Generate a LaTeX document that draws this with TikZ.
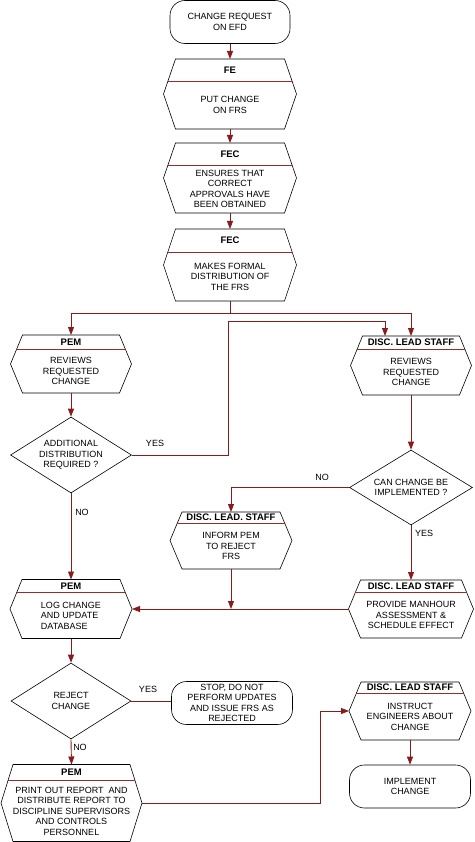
\documentclass[tikz,border=0pt]{standalone}
\usepackage{fontspec}
\setmainfont{Liberation Sans}
\usetikzlibrary{arrows.meta,shapes.geometric}

\definecolor{flowred}{RGB}{139,26,26}
\definecolor{rulered}{RGB}{150,45,45}

\tikzset{
    frame/.style={draw=black, line width=0.6pt},
    rulebar/.style={draw=rulered, line width=0.8pt},
    flow/.style={draw=flowred, line width=0.9pt, -{Triangle[width=6pt,length=8pt]}},
    plain/.style={draw=flowred, line width=0.9pt},
    hexa/.style={rectangle, inner sep=0pt, outer sep=0pt},
    head/.style={font=\fontsize{9.5}{11}\selectfont\bfseries, inner sep=0pt},
    txt/.style={font=\fontsize{9}{10.5}\selectfont, align=center, inner sep=0pt},
    term/.style={frame, rounded corners=15pt, txt, minimum width=121pt, minimum height=43pt},
    decision/.style={diamond, frame, txt, aspect=1.6},
    answer/.style={font=\fontsize{9}{10}\selectfont, inner sep=1pt},
}

% hexagon with header bar: [text opts]{name}{at}{width}{height}{header height}{header}{body}
\newcommand{\hexbox}[8][]{%
    \node[hexa, minimum width=#4, minimum height=#5] (#2) at (#3) {};
    \draw[frame] (#2.west) -- ([xshift=12pt]#2.north west) -- ([xshift=-12pt]#2.north east)
        -- (#2.east) -- ([xshift=-12pt]#2.south east) -- ([xshift=12pt]#2.south west) -- cycle;
    \begin{scope}
        \clip (#2.west) -- ([xshift=12pt]#2.north west) -- ([xshift=-12pt]#2.north east)
            -- (#2.east) -- ([xshift=-12pt]#2.south east) -- ([xshift=12pt]#2.south west) -- cycle;
        \draw[rulebar] ([yshift=-#6]#2.north west) -- ([yshift=-#6]#2.north east);
    \end{scope}
    \node[head] (#2-head) at ([yshift=-#6/2]#2.north) {#7};
    \node[txt, #1] (#2-text) at ([yshift=-#6/2]#2.center) {#8};
}

\begin{document}
\begin{tikzpicture}[x=1pt,y=-1pt]
    \useasboundingbox (0,0) rectangle (474,842);

    % main column
    \node[term, minimum width=120pt] (req) at (230,22) {CHANGE REQUEST\\ON EFD};
    \hexbox{fe}{230,94}{133pt}{70pt}{22pt}{FE}{PUT CHANGE\\ON FRS}
    \hexbox{fec1}{230,178}{133pt}{70pt}{22pt}{FEC}{ENSURES THAT\\CORRECT\\APPROVALS HAVE\\BEEN OBTAINED}
    \hexbox{fec2}{230,265}{133pt}{72pt}{23pt}{FEC}{MAKES FORMAL\\DISTRIBUTION OF\\THE FRS}

    % review
    \hexbox{pem1}{71,364}{121pt}{58pt}{14pt}{PEM}{REVIEWS\\REQUESTED\\CHANGE}
    \hexbox{dls1}{411,365.5}{121pt}{59pt}{13pt}{DISC. LEAD STAFF}{REVIEWS\\REQUESTED\\CHANGE}
    \node[decision, minimum width=121pt, minimum height=76pt] (addl) at (71,455) {ADDITIONAL\\DISTRIBUTION\\REQUIRED ?};
    \node[decision, minimum width=123pt, minimum height=75pt] (can) at (411,487.5) {CAN CHANGE BE\\IMPLEMENTED ?};
    \hexbox{dls2}{231,540.5}{122pt}{57pt}{11pt}{DISC. LEAD. STAFF}{INFORM PEM\\TO REJECT\\FRS}
    \hexbox{dls3}{411,609}{125pt}{58pt}{12pt}{DISC. LEAD STAFF}{PROVIDE MANHOUR\\ASSESSMENT \&\\SCHEDULE EFFECT}
    \hexbox[align=left]{pem2}{71,609}{122pt}{59pt}{13pt}{PEM}{LOG CHANGE\\AND UPDATE\\DATABASE}

    % outcome
    \node[decision, minimum width=120pt, minimum height=76pt] (rej) at (71,701) {REJECT\\CHANGE};
    \node[term] (stop) at (232,703) {STOP, DO NOT\\PERFORM UPDATES\\AND ISSUE FRS AS\\REJECTED};
    \hexbox{pem3}{71.5,803}{141pt}{77pt}{16pt}{PEM}{PRINT OUT REPORT\ \ AND\\DISTRIBUTE REPORT TO\\DISCIPLINE SUPERVISORS\\AND CONTROLS\\PERSONNEL}
    \hexbox{dls4}{410,711}{122pt}{58pt}{11pt}{DISC. LEAD STAFF}{INSTRUCT\\ENGINEERS ABOUT\\CHANGE}
    \node[term] (impl) at (410,786.5) {IMPLEMENT\\CHANGE};

    % connectors
    \draw[flow] (req.south) -- (fe.north);
    \draw[flow] (fe.south) -- (fec1.north);
    \draw[flow] (fec1.south) -- (fec2.north);
    \draw[flow] (fec2.south) -- ++(0,12) coordinate (fork) -| (pem1.north);
    \draw[flow] (fork) -| (dls1.north);
    \draw[flow] (pem1.south) -- (addl.north);
    \draw[flow] (addl.east) -- ++(97,0) |- ([xshift=-26pt,yshift=15pt]dls1.north) -- ([xshift=-26pt]dls1.north);
    \draw[flow] (dls1.south) -- (can.north);
    \draw[flow] (can.west) -| (dls2.north);
    \draw[flow] (can.south) -- (dls3.north);
    \draw[flow] (dls3.west) -- (pem2.east);
    \draw[flow] (dls2.south) -- (dls2.south |- pem2.east);
    \draw[flow] (addl.south) -- (pem2.north);
    \draw[flow] (pem2.south) -- (rej.north);
    \draw[plain] (rej.east) -- (rej.east -| stop.west);
    \draw[flow] (rej.south) -- (pem3.north);
    \draw[flow] (pem3.east) -- ++(178,0) |- (dls4.west);
    \draw[flow] (dls4.south) -- (impl.north);

    % answers
    \node[answer] (yes1) at (155,443) {YES};
    \node[answer] (no1) at (82,512) {NO};
    \node[answer] (no2) at (322,477) {NO};
    \node[answer] (yes2) at (424,533) {YES};
    \node[answer] (yes3) at (148,689) {YES};
    \node[answer] (no3) at (80,747) {NO};
\end{tikzpicture}
\end{document}
